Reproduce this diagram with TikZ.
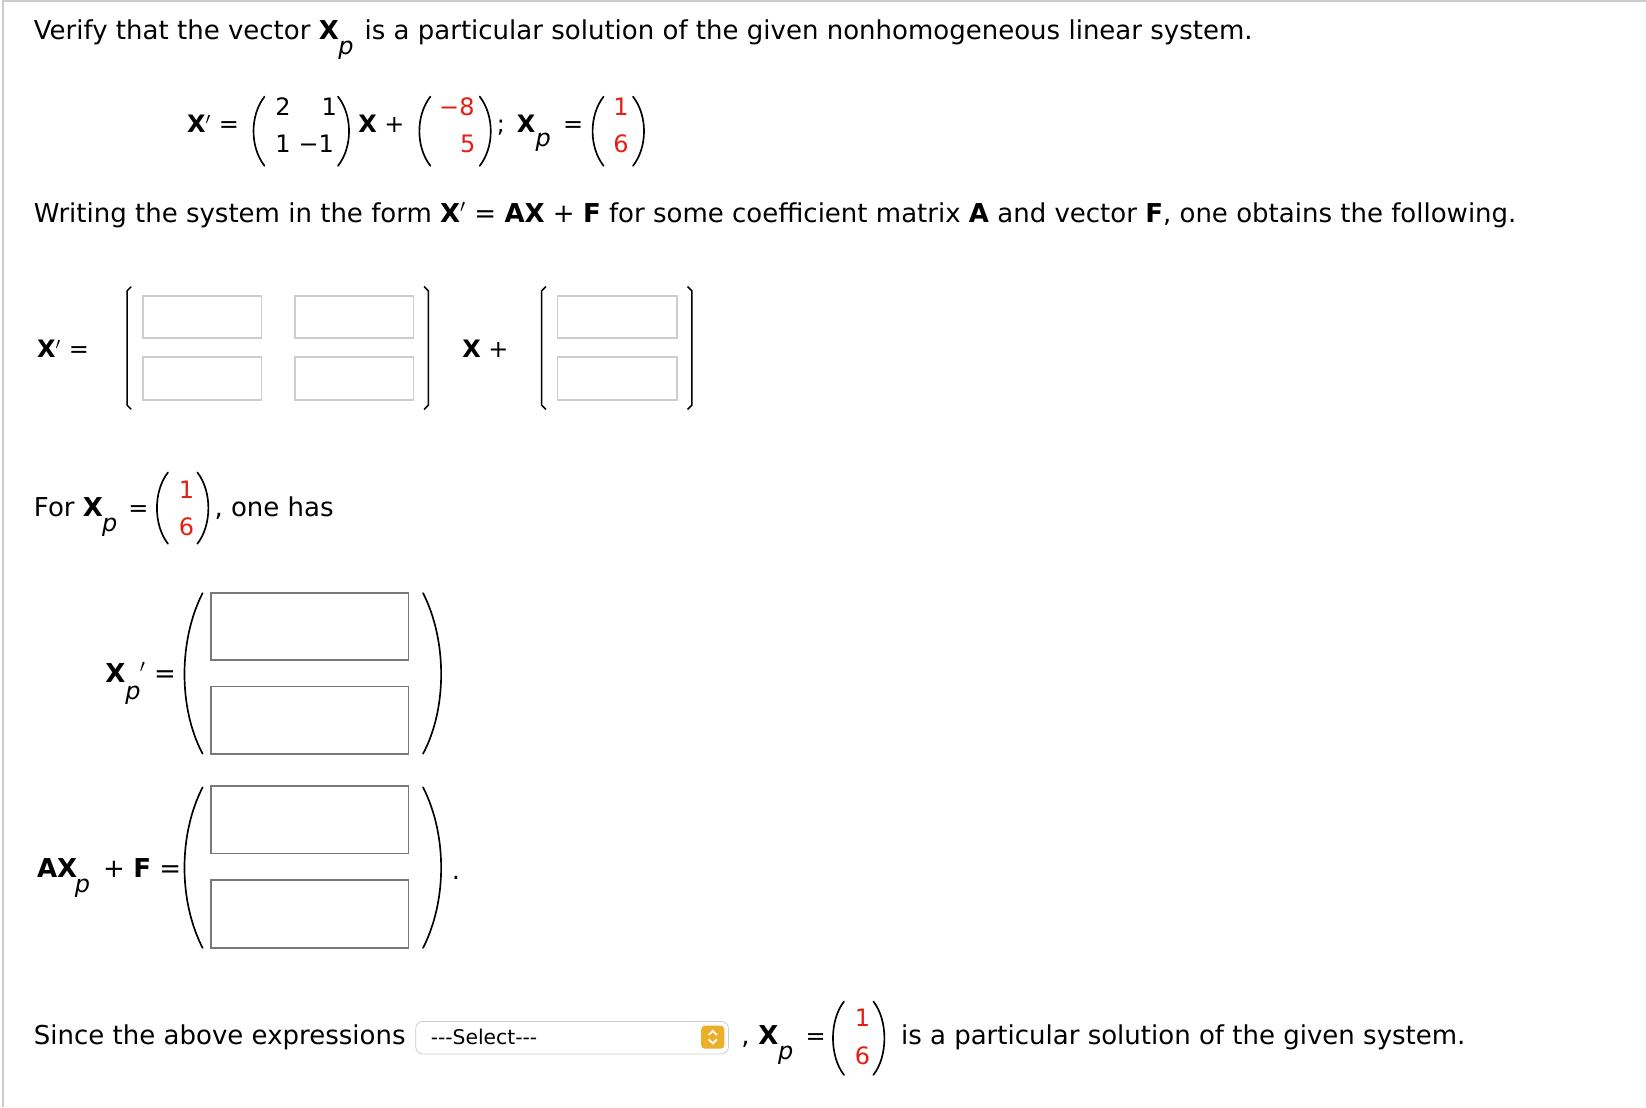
\documentclass[tikz,border=0pt]{standalone}
\usepackage{fontspec}
\setmainfont{DejaVu Sans}
\definecolor{qred}{RGB}{230,30,20}
\definecolor{qyel}{RGB}{235,175,40}
\definecolor{qbox}{RGB}{205,205,205}
\definecolor{qbig}{RGB}{120,120,120}
\begin{document}
\begin{tikzpicture}[x=0.02cm,y=-0.02cm,
 t/.style={anchor=base west,inner sep=0,font=\fontsize{14.1}{16}\selectfont},
 s/.style={anchor=base west,inner sep=0,font=\fontsize{13}{15}\selectfont},
 sub/.style={anchor=base west,inner sep=0,font=\fontsize{13}{14}\selectfont\itshape},
 red/.style={text=qred},
 inbox/.style={draw=qbox,line width=0.8pt},
 bigbox/.style={draw=qbig,line width=0.9pt},
 par/.style={line width=0.9pt,line cap=round}]
\useasboundingbox (0,0) rectangle (1568,1055);
\fill[white] (0,0) rectangle (1568,1055);
\draw[gray!40,line width=1pt] (3,1055) -- (3,1) -- (1568,1);
% line 1
\node[t] (l1a) at (32,38) {Verify that the vector \textbf{X}};
\node[sub] (l1p) at (322,52) {p};
\node[t] (l1b) at (347,38) {is a particular solution of the given nonhomogeneous linear system.};
% equation
\node[s] (e1) at (178,126) {\textbf{X}$'$ =};
\draw[par] (252,92) .. controls (238,110) and (238,140) .. (252,158);
\node[s] (m11) at (262,110) {2};
\node[s] (m12) at (306,110) {1};
\node[s] (m21) at (262,145) {1};
\node[s] (m22) at (284,145) {−1};
\draw[par] (322,92) .. controls (336,110) and (336,140) .. (322,158);
\node[s] (e2) at (341,126) {\textbf{X} +};
\draw[par] (410,92) .. controls (396,110) and (396,140) .. (410,158);
\node[s,red] (f1) at (418,110) {−8};
\node[s,red] (f2) at (438,145) {5};
\draw[par] (457,92) .. controls (471,110) and (471,140) .. (457,158);
\node[s] (e3) at (473,126) {;};
\node[s] (e4) at (492,126) {\textbf{X}};
\node[sub] (e4p) at (510,140) {p};
\node[s] (e5) at (536,126) {=};
\draw[par] (575,92) .. controls (561,110) and (561,140) .. (575,158);
\node[s,red] (g1) at (584,110) {1};
\node[s,red] (g2) at (584,145) {6};
\draw[par] (603,92) .. controls (617,110) and (617,140) .. (603,158);
% writing line
\node[t] (w) at (32,212) {Writing the system in the form \textbf{X}$'$ = \textbf{AX} + \textbf{F} for some coefficient matrix \textbf{A} and vector \textbf{F}, one obtains the following.};
% matrix row
\node[s] (x1) at (35,341) {\textbf{X}$'$ =};
\draw[line width=0.8pt] (125,273) -- (121,277) -- (121,386) -- (125,390);
\draw[line width=0.8pt] (404,273) -- (408,277) -- (408,386) -- (404,390);
\draw[inbox] (136,282) rectangle (249,322) (281,282) rectangle (394,322)
 (136,340) rectangle (249,381) (281,340) rectangle (394,381);
\node[s] (x2) at (440,341) {\textbf{X} +};
\draw[line width=0.8pt] (520,273) -- (516,277) -- (516,386) -- (520,390);
\draw[line width=0.8pt] (655,273) -- (659,277) -- (659,386) -- (655,390);
\draw[inbox] (531,282) rectangle (645,322) (531,340) rectangle (645,381);
% for Xp
\node[t] (fo) at (32,492) {For \textbf{X}};
\node[sub] (fop) at (97,506) {p};
\node[s] (foe) at (122,492) {=};
\draw[par] (160,450) .. controls (146,468) and (146,500) .. (160,518);
\node[s,red] (h1) at (170,475) {1};
\node[s,red] (h2) at (170,510) {6};
\draw[par] (188,450) .. controls (202,468) and (202,500) .. (188,518);
\node[t] (foh) at (204,492) {, one has};
% xp'
\node[t] (xp) at (100,650) {\textbf{X}};
\node[sub] (xpp) at (119,666) {p};
\node[t] (xpe) at (133,650) {$'$ =};
\draw[par] (193,565) .. controls (170,610) and (170,675) .. (193,718);
\draw[par] (403,565) .. controls (426,610) and (426,675) .. (403,718);
\draw[bigbox] (201,565) rectangle (389,629) (201,654) rectangle (389,718);
% AXp+F
\node[t] (ax) at (35,836) {\textbf{AX}};
\node[sub] (axp) at (71,850) {p};
\node[t] (axe) at (98,836) {+ \textbf{F} =};
\draw[par] (193,750) .. controls (170,795) and (170,858) .. (193,903);
\draw[par] (403,750) .. controls (426,795) and (426,858) .. (403,903);
\draw[bigbox] (201,749) rectangle (389,813) (201,838) rectangle (389,903);
\node[t] (dot) at (430,838) {.};
% bottom
\node[t] (since) at (32,995) {Since the above expressions};
\draw[gray!40,fill=white,rounded corners=4pt] (396,973) rectangle (694,1004);
\node[anchor=base west,inner sep=0,font=\fontsize{11}{12}\selectfont] (sel) at (410,995) {-{}-{}-Select-{}-{}-};
\fill[qyel,rounded corners=2pt] (668,977) rectangle (690,999);
\draw[white,line width=1pt] (675,986) -- (679,982) -- (683,986) (675,990) -- (679,994) -- (683,990);
\node[t] (cm) at (706,995) {,};
\node[t] (bx) at (722,995) {\textbf{X}};
\node[sub] (bxp) at (741,1009) {p};
\node[s] (bxe) at (767,995) {=};
\draw[par] (804,954) .. controls (790,972) and (790,1006) .. (804,1024);
\node[s,red] (k1) at (814,978) {1};
\node[s,red] (k2) at (814,1014) {6};
\draw[par] (832,954) .. controls (846,972) and (846,1006) .. (832,1024);
\node[t] (rest) at (858,995) {is a particular solution of the given system.};
\end{tikzpicture}
\end{document}
